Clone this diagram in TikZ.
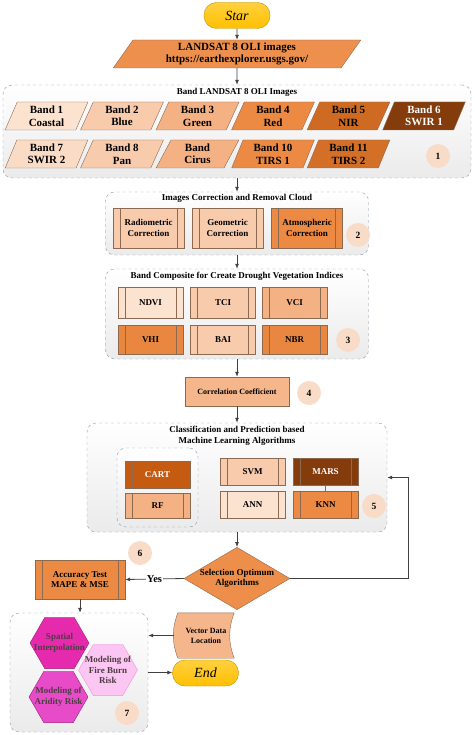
\documentclass[tikz,border=0pt]{standalone}
\usepackage{fontspec}
\setmainfont{Liberation Serif}
\usetikzlibrary{shapes.geometric,arrows.meta,positioning,backgrounds}

\definecolor{peachA}{HTML}{FBE3D0}
\definecolor{peachB}{HTML}{F8CBAD}
\definecolor{peachC}{HTML}{F4B183}
\definecolor{orangeA}{HTML}{EC8A44}
\definecolor{orangeB}{HTML}{CF6A22}
\definecolor{rustA}{HTML}{C55A11}
\definecolor{brownA}{HTML}{843C0C}
\definecolor{edgeC}{HTML}{8C6A52}
\definecolor{grpline}{HTML}{8497B0}
\definecolor{goldA}{HTML}{FFC000}
\definecolor{goldB}{HTML}{BF9000}
\definecolor{magA}{HTML}{E62AAE}
\definecolor{magB}{HTML}{E84BC8}
\definecolor{pinkA}{HTML}{FBC6F2}
\definecolor{numC}{HTML}{F9DCC8}
\definecolor{linkC}{HTML}{404040}

\begin{document}
\begin{tikzpicture}[x=1pt, y=-1pt,
    every node/.style={align=center, inner sep=1pt},
    term/.style={draw=goldB, top color=goldA!75!white, bottom color=goldA,
      rounded corners=12.5pt, minimum width=66pt, minimum height=26pt,
      font=\fontsize{14}{16}\selectfont\itshape},
    band/.style={trapezium, trapezium left angle=70, trapezium right angle=110,
      trapezium stretches=true, minimum width=83pt, minimum height=28pt,
      draw=edgeC, inner sep=0pt, font=\fontsize{11}{12.5}\selectfont\bfseries},
    proc/.style={rectangle, draw=edgeC, inner sep=1pt,
      font=\fontsize{9}{10.5}\selectfont\bfseries,
      path picture={\draw[edgeC]
        ([xshift=7pt]path picture bounding box.north west) -- ([xshift=7pt]path picture bounding box.south west)
        ([xshift=-7pt]path picture bounding box.north east) -- ([xshift=-7pt]path picture bounding box.south east);}},
    grp/.style={draw=grpline, dashed, rounded corners=9pt, top color=white, bottom color=black!8},
    grptitle/.style={font=\fontsize{9}{11}\selectfont\bfseries},
    num/.style={circle, fill=numC, minimum size=24pt, inner sep=0pt,
      font=\fontsize{9.5}{10}\selectfont\bfseries},
    hexa/.style={regular polygon, regular polygon sides=6, minimum size=59pt, inner sep=0pt},
    hextxt/.style={font=\fontsize{9}{10.5}\selectfont\bfseries, text=black!80!magenta},
    link/.style={draw=linkC, line width=0.8pt, -{Latex[length=5pt,width=4pt]}},
  ]
  \useasboundingbox (0,0) rectangle (474,735);

  \node[term] (star) at (237,15.5) {Star};
  \node[trapezium, trapezium left angle=59, trapezium right angle=121, trapezium stretches=true,
        minimum width=248pt, minimum height=28pt, draw=edgeC, fill=orangeA!85!peachC,
        inner sep=0pt, font=\fontsize{11}{12.5}\selectfont\bfseries]
        (landsat) at (237,54) {LANDSAT 8 OLI images\\https://earthexplorer.usgs.gov/};

  % step 1
  \node[grp, minimum width=468pt, minimum height=93pt] (g1) at (237,131.5) {};
  \node[grptitle] (t1) at (237,92) {Band LANDSAT 8 OLI Images};
  \node[band, fill=peachA] (b1) at (46.5,116) {Band 1\\Coastal};
  \node[band, fill=peachB] (b2) at (122,116) {Band 2\\Blue};
  \node[band, fill=peachC] (b3) at (197.5,116) {Band 3\\Green};
  \node[band, fill=orangeA] (b4) at (273,116) {Band 4\\Red};
  \node[band, fill=orangeB] (b5) at (348.5,116) {Band 5\\NIR};
  \node[band, fill=brownA, text=white] (b6) at (424,116) {Band 6\\SWIR 1};
  \node[band, fill=peachA!70!peachB] (b7) at (46.5,154) {Band 7\\SWIR 2};
  \node[band, fill=peachB] (b8) at (122,154) {Band 8\\Pan};
  \node[band, fill=peachC] (b9) at (197.5,154) {Band\\Cirus};
  \node[band, fill=orangeA] (b10) at (273,154) {Band 10\\TIRS 1};
  \node[band, fill=orangeB!85!orangeA] (b11) at (348.5,154) {Band 11\\TIRS 2};
  \node[num] (n1) at (438,156) {1};

  % step 2
  \node[grp, minimum width=263pt, minimum height=63pt] (g2) at (237,223.5) {};
  \node[grptitle] (t2) at (237,198.5) {Images Correction and Removal Cloud};
  \node[proc, fill=peachB, minimum width=71pt, minimum height=40pt] (radio) at (148.5,228) {Radiometric\\Correction};
  \node[proc, fill=peachB, minimum width=71pt, minimum height=40pt] (geo) at (227.5,228) {Geometric\\Correction};
  \node[proc, fill=orangeA, minimum width=71pt, minimum height=40pt] (atmo) at (307,228) {Atmospheric\\Correction};
  \node[num] (n2) at (358,235) {2};

  % step 3
  \node[grp, minimum width=263pt, minimum height=90pt] (g3) at (237,314) {};
  \node[grptitle] (t3) at (237,276.5) {Band Composite for Create Drought Vegetation Indices};
  \node[proc, fill=peachA, minimum width=65pt, minimum height=31pt] (ndvi) at (150.5,302.5) {NDVI};
  \node[proc, fill=peachB, minimum width=65pt, minimum height=31pt] (tci) at (223,302.5) {TCI};
  \node[proc, fill=peachC, minimum width=65pt, minimum height=31pt] (vci) at (294.5,302.5) {VCI};
  \node[proc, fill=orangeA!90!orangeB, minimum width=65pt, minimum height=29pt] (vhi) at (150.5,339.5) {VHI};
  \node[proc, fill=peachB, minimum width=65pt, minimum height=29pt] (bai) at (223,339.5) {BAI};
  \node[proc, fill=orangeA!90!orangeB, minimum width=65pt, minimum height=29pt] (nbr) at (294.5,339.5) {NBR};
  \node[num] (n3) at (348,340) {3};

  % step 4
  \node[draw=edgeC, fill=peachC!80!peachB, minimum width=104pt, minimum height=29pt,
        font=\fontsize{8}{10}\selectfont\bfseries] (corr) at (237,391.5) {Correlation Coefficient};
  \node[num] (n4) at (309,393) {4};

  % step 5
  \node[grp, minimum width=300pt, minimum height=109pt] (g5) at (237,477.5) {};
  \node[grptitle] (t5) at (237,435.5) {Classification and Prediction based\\Machine Learning Algorithms};
  \node[grp, minimum width=81pt, minimum height=79pt] (g5a) at (157.5,487.5) {};
  \node[proc, fill=rustA, text=white, minimum width=65pt, minimum height=27pt] (cart) at (157.5,474.5) {CART};
  \node[proc, fill=peachC, minimum width=65pt, minimum height=25pt] (rf) at (157.5,505.5) {RF};
  \node[proc, fill=peachB, minimum width=65pt, minimum height=27pt] (svm) at (252.5,471.5) {SVM};
  \node[proc, fill=peachA, minimum width=65pt, minimum height=27pt] (ann) at (252.5,504.5) {ANN};
  \node[proc, fill=brownA, text=white, minimum width=65pt, minimum height=27pt] (mars) at (325.5,472) {MARS};
  \node[proc, fill=orangeA, minimum width=65pt, minimum height=27pt] (knn) at (325.5,505) {KNN};
  \node[num] (n5) at (374,506) {5};
  \draw[edgeC] (mars) -- (knn);

  % step 6
  \node[diamond, aspect=1.7, minimum width=100pt, minimum height=59pt, inner sep=0pt,
        draw=edgeC, fill=orangeA!90!peachC, font=\fontsize{9}{10.5}\selectfont\bfseries]
        (dia) at (237,578.5) {Selection Optimum\\Algorithms};
  \node[proc, fill=orangeA, minimum width=90pt, minimum height=39pt] (acc) at (80,579.5) {Accuracy Test\\MAPE \& MSE};
  \node[num] (n6) at (140,553) {6};

  % step 7
  \node[grp, minimum width=138pt, minimum height=119pt] (g7) at (79,672.5) {};
  \node[hexa, fill=magA, draw=magA!70!black] (spat) at (59.5,643) {};
  \node[hexa, fill=magB, draw=magA!70!black] (arid) at (58.5,697) {};
  \node[hexa, fill=pinkA, draw=magA!50!white] (fire) at (108,670) {};
  \node[hextxt] (spatT) at (spat) {Spatial\\Interpolation};
  \node[hextxt] (aridT) at (arid) {Modeling of\\Aridity Risk};
  \node[hextxt] (fireT) at (fire) {Modeling of\\Fire Burn\\Risk};
  \node[num] (n7) at (127,713) {7};

  \node[minimum width=56pt, minimum height=45pt, inner sep=0pt,
        font=\fontsize{8}{10}\selectfont\bfseries] (vec) at (206,635.5) {Vector Data\\Location};
  \begin{scope}[on background layer]
    \draw[edgeC, fill=peachC!80!peachB] (vec.north west) -- (vec.north east)
      to[bend right=20] (vec.south east) -- (vec.south west) to[bend left=20] (vec.north west) -- cycle;
  \end{scope}
  \node[term] (endn) at (205.5,673) {End};

  \draw[link] (star) -- (landsat);
  \draw[link] (landsat) -- (g1);
  \draw[link] (g1) -- (g2);
  \draw[link] (g2) -- (g3);
  \draw[link] (g3) -- (corr);
  \draw[link] (corr) -- (g5);
  \draw[link] (g5) -- (dia);
  \draw[link] (dia.west) -- node[fill=white, inner sep=1pt, font=\fontsize{10.5}{12}\selectfont\bfseries] (yes) {Yes} (acc.east);
  \coordinate (fb) at (408,578.5);
  \draw[link] (dia.east) -- (fb) |- (g5.east);
  \draw[link] (acc.south) -- (acc.south |- g7.north);
  \draw[link] ([xshift=-4pt]vec.west) -- (vec.west -| g7.east);
  \draw[link] (g7.east) -- (g7.east -| endn.west);
\end{tikzpicture}
\end{document}
